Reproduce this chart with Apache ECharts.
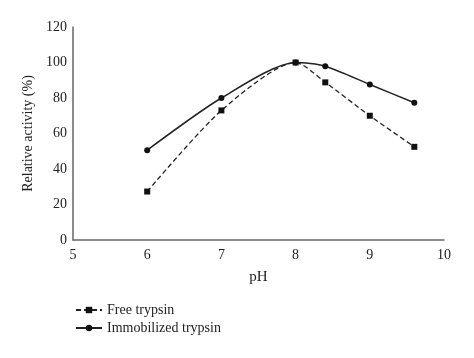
<!DOCTYPE html>
<html><head><meta charset="utf-8">
<script src="https://cdn.jsdelivr.net/npm/echarts@6/dist/echarts.min.js"></script>
<style>html,body{margin:0;padding:0;background:#fff}#c{width:474px;height:358px}</style>
</head><body><div id="c"></div>
<script>
const pH = [6, 7, 8, 8.4, 9, 9.6];
const freeTrypsin = [27.3, 73, 100, 88.8, 70, 52.5];
const immobilizedTrypsin = [50.6, 80, 100, 97.9, 87.6, 77.3];
const seriesNames = ['Free trypsin', 'Immobilized trypsin'];

const font = 'Liberation Serif';
const chart = echarts.init(document.getElementById('c'));
chart.setOption({
  animation: false,
  textStyle: { fontFamily: font },
  grid: { left: 73, right: 30, top: 27, bottom: 118 },
  xAxis: {
    type: 'value', min: 5, max: 10, interval: 1,
    name: 'pH', nameLocation: 'middle', nameGap: 30,
    nameTextStyle: { fontFamily: font, fontSize: 15, color: '#222' },
    axisLine: { lineStyle: { color: '#666', width: 1.5 } },
    axisTick: { show: false },
    splitLine: { show: false },
    axisLabel: { fontFamily: font, fontSize: 14, color: '#222', margin: 8 }
  },
  yAxis: {
    type: 'value', min: 0, max: 120, interval: 20,
    name: 'Relative activity (%)', nameLocation: 'middle', nameGap: 36,
    nameTextStyle: { fontFamily: font, fontSize: 14, color: '#222' },
    axisLine: { show: true, lineStyle: { color: '#666', width: 1.5 } },
    axisTick: { show: false },
    splitLine: { show: false },
    axisLabel: { fontFamily: font, fontSize: 14, color: '#222', margin: 6 }
  },
  legend: {
    orient: 'vertical', left: 70, top: 298, itemGap: 4,
    itemWidth: 26, itemHeight: 8,
    textStyle: { fontFamily: font, fontSize: 14, color: '#222' },
    data: seriesNames
  },
  series: [
    {
      name: seriesNames[0], type: 'line', smooth: 0.25,
      data: pH.map((x, i) => [x, freeTrypsin[i]]),
      symbol: 'rect', symbolSize: 6,
      lineStyle: { color: '#222', width: 1.3, type: [5, 3] },
      itemStyle: { color: '#111' }
    },
    {
      name: seriesNames[1], type: 'line', smooth: 0.25,
      data: pH.map((x, i) => [x, immobilizedTrypsin[i]]),
      symbol: 'circle', symbolSize: 6,
      lineStyle: { color: '#222', width: 1.5 },
      itemStyle: { color: '#111' }
    }
  ]
});
</script></body></html>
